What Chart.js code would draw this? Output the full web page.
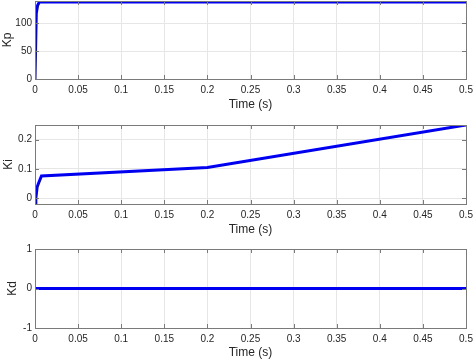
<!DOCTYPE html>
<html>
<head>
<meta charset="utf-8">
<script src="https://cdn.jsdelivr.net/npm/chart.js@4.4.1/dist/chart.umd.min.js"></script>
<style>
  body { margin: 0; background: #fff; }
  #wrap { position: relative; width: 474px; height: 362px; }
  canvas { position: absolute; left: 0; }
</style>
</head>
<body>
<div id="wrap">
  <canvas id="kpChart" width="474" height="112" style="top:0px"></canvas>
  <canvas id="kiChart" width="474" height="121" style="top:116px"></canvas>
  <canvas id="kdChart" width="474" height="120" style="top:240px"></canvas>
</div>
<script>
// tick labels
const timeTicks = [0, 0.05, 0.1, 0.15, 0.2, 0.25, 0.3, 0.35, 0.4, 0.45, 0.5];
const kpTicks = [0, 50, 100];
const kiTicks = [0, 0.1, 0.2];
const kdTicks = [-1, 0, 1];

// series
const kpTime = [0, 0.0015, 0.003, 0.005, 0.5];
const kpValues = [0, 118, 132, 138, 138];

const kiTime = [0, 0.001, 0.0025, 0.004, 0.0075, 0.2, 0.5];
const kiValues = [-0.018, 0.0, 0.038, 0.05, 0.076, 0.105, 0.25];

const kdTime = [0, 0.5];
const kdValues = [0, 0];

Chart.defaults.font.family = '"Liberation Sans", Arial, sans-serif';
Chart.defaults.color = '#262626';

const lineBlue = '#0000f0';
const boxColor = '#7a7a7a';

// MATLAB style box with inward ticks
const boxPlugin = {
    id: 'matlabBox',
    afterDatasetsDraw(chart) {
        const ctx = chart.ctx;
        const a = chart.chartArea;
        const x = chart.scales.x;
        const y = chart.scales.y;
        const t = 4;
        ctx.save();
        ctx.strokeStyle = boxColor;
        ctx.lineWidth = 1;
        ctx.beginPath();
        x.ticks.forEach(tk => {
            const px = Math.round(x.getPixelForValue(tk.value)) + 0.5;
            ctx.moveTo(px, a.bottom); ctx.lineTo(px, a.bottom - t);
            ctx.moveTo(px, a.top); ctx.lineTo(px, a.top + t);
        });
        y.ticks.forEach(tk => {
            const py = Math.round(y.getPixelForValue(tk.value)) + 0.5;
            ctx.moveTo(a.left, py); ctx.lineTo(a.left + t, py);
            ctx.moveTo(a.right, py); ctx.lineTo(a.right - t, py);
        });
        ctx.stroke();
        ctx.strokeRect(Math.round(a.left) + 0.5, Math.round(a.top) + 0.5,
            Math.round(a.right - a.left), Math.round(a.bottom - a.top));
        ctx.restore();
    }
};

function fmt(v) {
    return String(+Number(v).toFixed(4));
}

function makeChart(id, times, values, yLabel, yMin, yMax, yTicks, topPad, xHeight, titlePad) {
    const points = times.map((t, i) => ({ x: t, y: values[i] }));
    return new Chart(document.getElementById(id), {
        type: 'line',
        data: {
            datasets: [{
                data: points,
                borderColor: lineBlue,
                borderWidth: 3,
                pointRadius: 0,
                tension: 0,
                fill: false
            }]
        },
        options: {
            responsive: false,
            animation: false,
            layout: { padding: { top: topPad, left: 0, right: 8, bottom: 0 } },
            plugins: { legend: { display: false }, tooltip: { enabled: false } },
            scales: {
                x: {
                    type: 'linear',
                    min: 0,
                    max: 0.5,
                    afterBuildTicks: s => { s.ticks = timeTicks.map(v => ({ value: v })); },
                    afterFit: s => { s.height = xHeight; s.paddingLeft = 0; s.paddingRight = 0; },
                    grid: { color: '#e6e6e6', drawTicks: false },
                    border: { display: false },
                    ticks: { padding: 5, maxRotation: 0, autoSkip: false, font: { size: 10 }, callback: fmt },
                    title: { display: true, text: 'Time (s)', font: { size: 12 }, padding: 0 }
                },
                y: {
                    min: yMin,
                    max: yMax,
                    afterBuildTicks: s => { s.ticks = yTicks.map(v => ({ value: v })); },
                    afterFit: s => { s.width = 35; s.paddingTop = 0; s.paddingBottom = 0; },
                    grid: { color: '#e6e6e6', drawTicks: false },
                    border: { display: false },
                    ticks: { padding: 3, autoSkip: false, font: { size: 10 }, callback: fmt },
                    title: { display: true, text: yLabel, font: { size: 12 }, padding: { top: titlePad, bottom: 0 } }
                }
            }
        },
        plugins: [boxPlugin]
    });
}

makeChart('kpChart', kpTime, kpValues, 'Kp', 0, 140, kpTicks, 1, 33, 0);
makeChart('kiChart', kiTime, kiValues, 'Ki', -0.02, 0.25, kiTicks, 9, 33, 1);
makeChart('kdChart', kdTime, kdValues, 'Kd', -1, 1, kdTicks, 9, 32, 5);
</script>
</body>
</html>
